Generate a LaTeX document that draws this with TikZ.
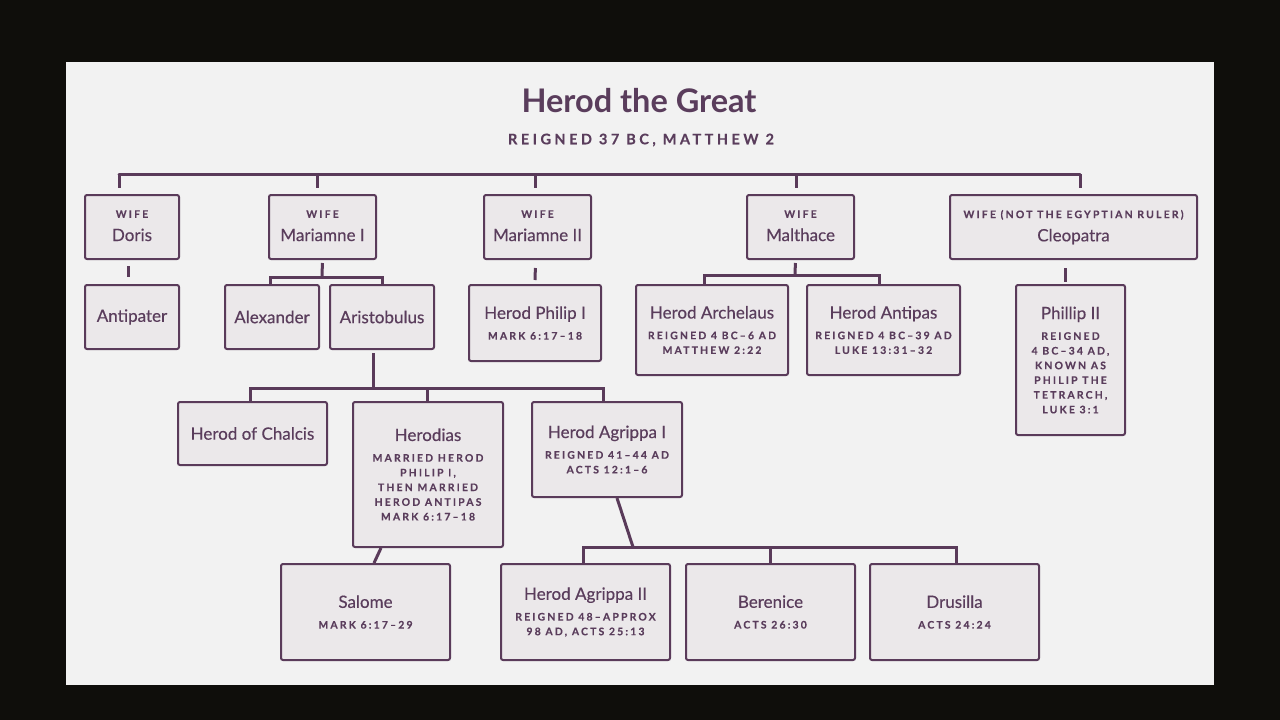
\documentclass[tikz,border=0pt]{standalone}
\usepackage{fontspec}
\setmainfont{Lato}
\newfontfamily\spaced[LetterSpace=21,FakeBold=0.3]{Lato}
\newfontfamily\subspaced[LetterSpace=24,FakeBold=0.3]{Lato}
\newfontfamily\namefont[FakeBold=0.35]{Lato}
\definecolor{bgdark}{HTML}{0F0E0B}
\definecolor{slide}{HTML}{F2F2F2}
\definecolor{boxfill}{HTML}{EBE8EA}
\definecolor{edge}{HTML}{5A3B5A}
\definecolor{ink}{HTML}{5A3D5C}
\newcommand\nm[1]{{\namefont\mdseries\fontsize{17}{20}\selectfont #1}}
\newcommand\bx[6]{\node[box, minimum width={#4-#2}, minimum height={#5-#3}] (#1) at ({(#2+#4)/2},{(#3+#5)/2}) {#6};}
\tikzset{
  box/.style={draw=edge, fill=boxfill, line width=2pt, rounded corners=2pt, inner sep=0pt, align=center, text=ink,
    font=\spaced\bfseries\fontsize{10.4}{14.7}\selectfont},
  conn/.style={draw=edge, line width=3pt},
}
\begin{document}
\begin{tikzpicture}[x=1pt,y=-1pt]
\useasboundingbox (0,0) rectangle (1280,720);
\fill[bgdark] (0,0) rectangle (1280,720);
\fill[slide] (66,62) rectangle (1214,685);

\node[text=ink, font=\bfseries\fontsize{32.5}{36}\selectfont] (title) at (639,101) {Herod the Great};
\node[text=ink, font=\subspaced\bfseries\fontsize{14.5}{16}\selectfont] (subtitle) at (641,140) {REIGNED 37 BC, MATTHEW 2};

% wives
\bx{doris}{85}{195}{179}{259}{WIFE\\[8.5pt]\nm{Doris}\\[-12pt]\mbox{}}
\bx{mar1}{269}{195}{376}{259}{WIFE\\[8.5pt]\nm{Mariamne I}\\[-12pt]\mbox{}}
\bx{mar2}{484}{195}{591}{259}{WIFE\\[8.5pt]\nm{Mariamne II}\\[-12pt]\mbox{}}
\bx{mal}{747}{195}{854}{259}{WIFE\\[8.5pt]\nm{Malthace}\\[-12pt]\mbox{}}
\bx{cleo}{950}{195}{1197}{259}{WIFE (NOT THE EGYPTIAN RULER)\\[8.5pt]\nm{Cleopatra}\\[-12pt]\mbox{}}

% children
\bx{antipater}{85}{285}{179}{349}{\nm{Antipater}}
\bx{alex}{225}{285}{319}{349}{\nm{Alexander}}
\bx{aristo}{330}{285}{434}{349}{\nm{Aristobulus}}
\bx{philip1}{469}{285}{601}{361}{\nm{Herod Philip I}\\[6pt]MARK 6:17–18}
\bx{arch}{636}{285}{788}{375}{\nm{Herod Archelaus}\\[6pt]REIGNED 4 BC–6 AD\\MATTHEW 2:22}
\bx{antipas}{807}{285}{960}{375}{\nm{Herod Antipas}\\[6pt]REIGNED 4 BC–39 AD\\LUKE 13:31–32}
\bx{phil2}{1016}{285}{1125}{435}{\nm{Phillip II}\\[6pt]REIGNED\\4 BC–34 AD,\\KNOWN AS\\PHILIP THE\\TETRARCH,\\LUKE 3:1}

% grandchildren
\bx{chalcis}{178}{402}{327}{465}{\nm{Herod of Chalcis}}
\bx{herodias}{353}{402}{503}{547}{\nm{Herodias}\\[6pt]MARRIED HEROD\\PHILIP I,\\THEN MARRIED\\HEROD ANTIPAS\\MARK 6:17–18}
\bx{agr1}{532}{402}{682}{497}{\nm{Herod Agrippa I}\\[6pt]REIGNED 41–44 AD\\ACTS 12:1–6}

% great-grandchildren
\bx{salome}{281}{564}{450}{660}{\nm{Salome}\\[6pt]MARK 6:17–29}
\bx{agr2}{501}{564}{670}{660}{\nm{Herod Agrippa II}\\[6pt]REIGNED 48–APPROX\\98 AD, ACTS 25:13}
\bx{ber}{686}{564}{855}{660}{\nm{Berenice}\\[6pt]ACTS 26:30}
\bx{drus}{870}{564}{1039}{660}{\nm{Drusilla}\\[6pt]ACTS 24:24}

% top bar
\coordinate (barL) at (119,174);
\coordinate (barR) at (1080,174);
\coordinate (d2) at (317,174);
\coordinate (d3) at (535,174);
\coordinate (d4) at (796,174);
\draw[conn, line cap=round] (barL) -- (barR);
\draw[conn, shorten >=6pt] (barL) -- (barL |- doris.north);
\draw[conn, shorten >=6pt] (d2) -- (d2 |- mar1.north);
\draw[conn, shorten >=6pt] (d3) -- (d3 |- mar2.north);
\draw[conn, shorten >=6pt] (d4) -- (d4 |- mal.north);
\draw[conn, shorten >=6pt] (barR) -- (barR |- cleo.north);

% Doris
\draw[conn, shorten <=6pt, shorten >=7pt] ([xshift=-4pt]doris.south) -- ([xshift=-4pt]antipater.north);
% Mariamne I
\coordinate (m1j) at (322,277);
\draw[conn, shorten <=3pt] (mar1.south) -- (m1j);
\draw[conn] ([xshift=-2pt]alex.north) |- (m1j) -| (aristo.north);
% Mariamne II
\draw[conn, shorten <=8pt, shorten >=4pt] ([xshift=-2pt]mar2.south) -- (philip1.north);
% Malthace
\coordinate (malj) at (795,275);
\draw[conn, shorten <=3pt] ([xshift=-5pt]mal.south) -- (malj);
\draw[conn] ([xshift=-8pt]arch.north) |- (malj) -| ([xshift=-4.5pt]antipas.north);
% Cleopatra
\draw[conn, shorten <=8pt, shorten >=2pt] ([xshift=-8pt]cleo.south) -- ([xshift=-5pt]phil2.north);
% Aristobulus
\coordinate (aj) at (373,388);
\draw[conn, shorten <=3pt] ([xshift=-9pt]aristo.south) -- (aj);
\draw[conn] ([xshift=-2.5pt]chalcis.north) |- (aj) -| ([xshift=-4pt]agr1.north);
\draw[conn] ([xshift=-1pt]herodias.north) -- ([xshift=-1pt]herodias.north |- aj);
% Herodias
\draw[conn] ([xshift=-47pt]herodias.south) -- ([xshift=8.5pt]salome.north);
% Agrippa I
\coordinate (gj) at (633,547);
\draw[conn] ([xshift=10pt]agr1.south) -- (gj);
\draw[conn] ([xshift=-2.5pt]agr2.north) |- (gj) -| ([xshift=1.5pt]drus.north);
\draw[conn] (ber.north) -- (ber.north |- gj);
\end{tikzpicture}
\end{document}
